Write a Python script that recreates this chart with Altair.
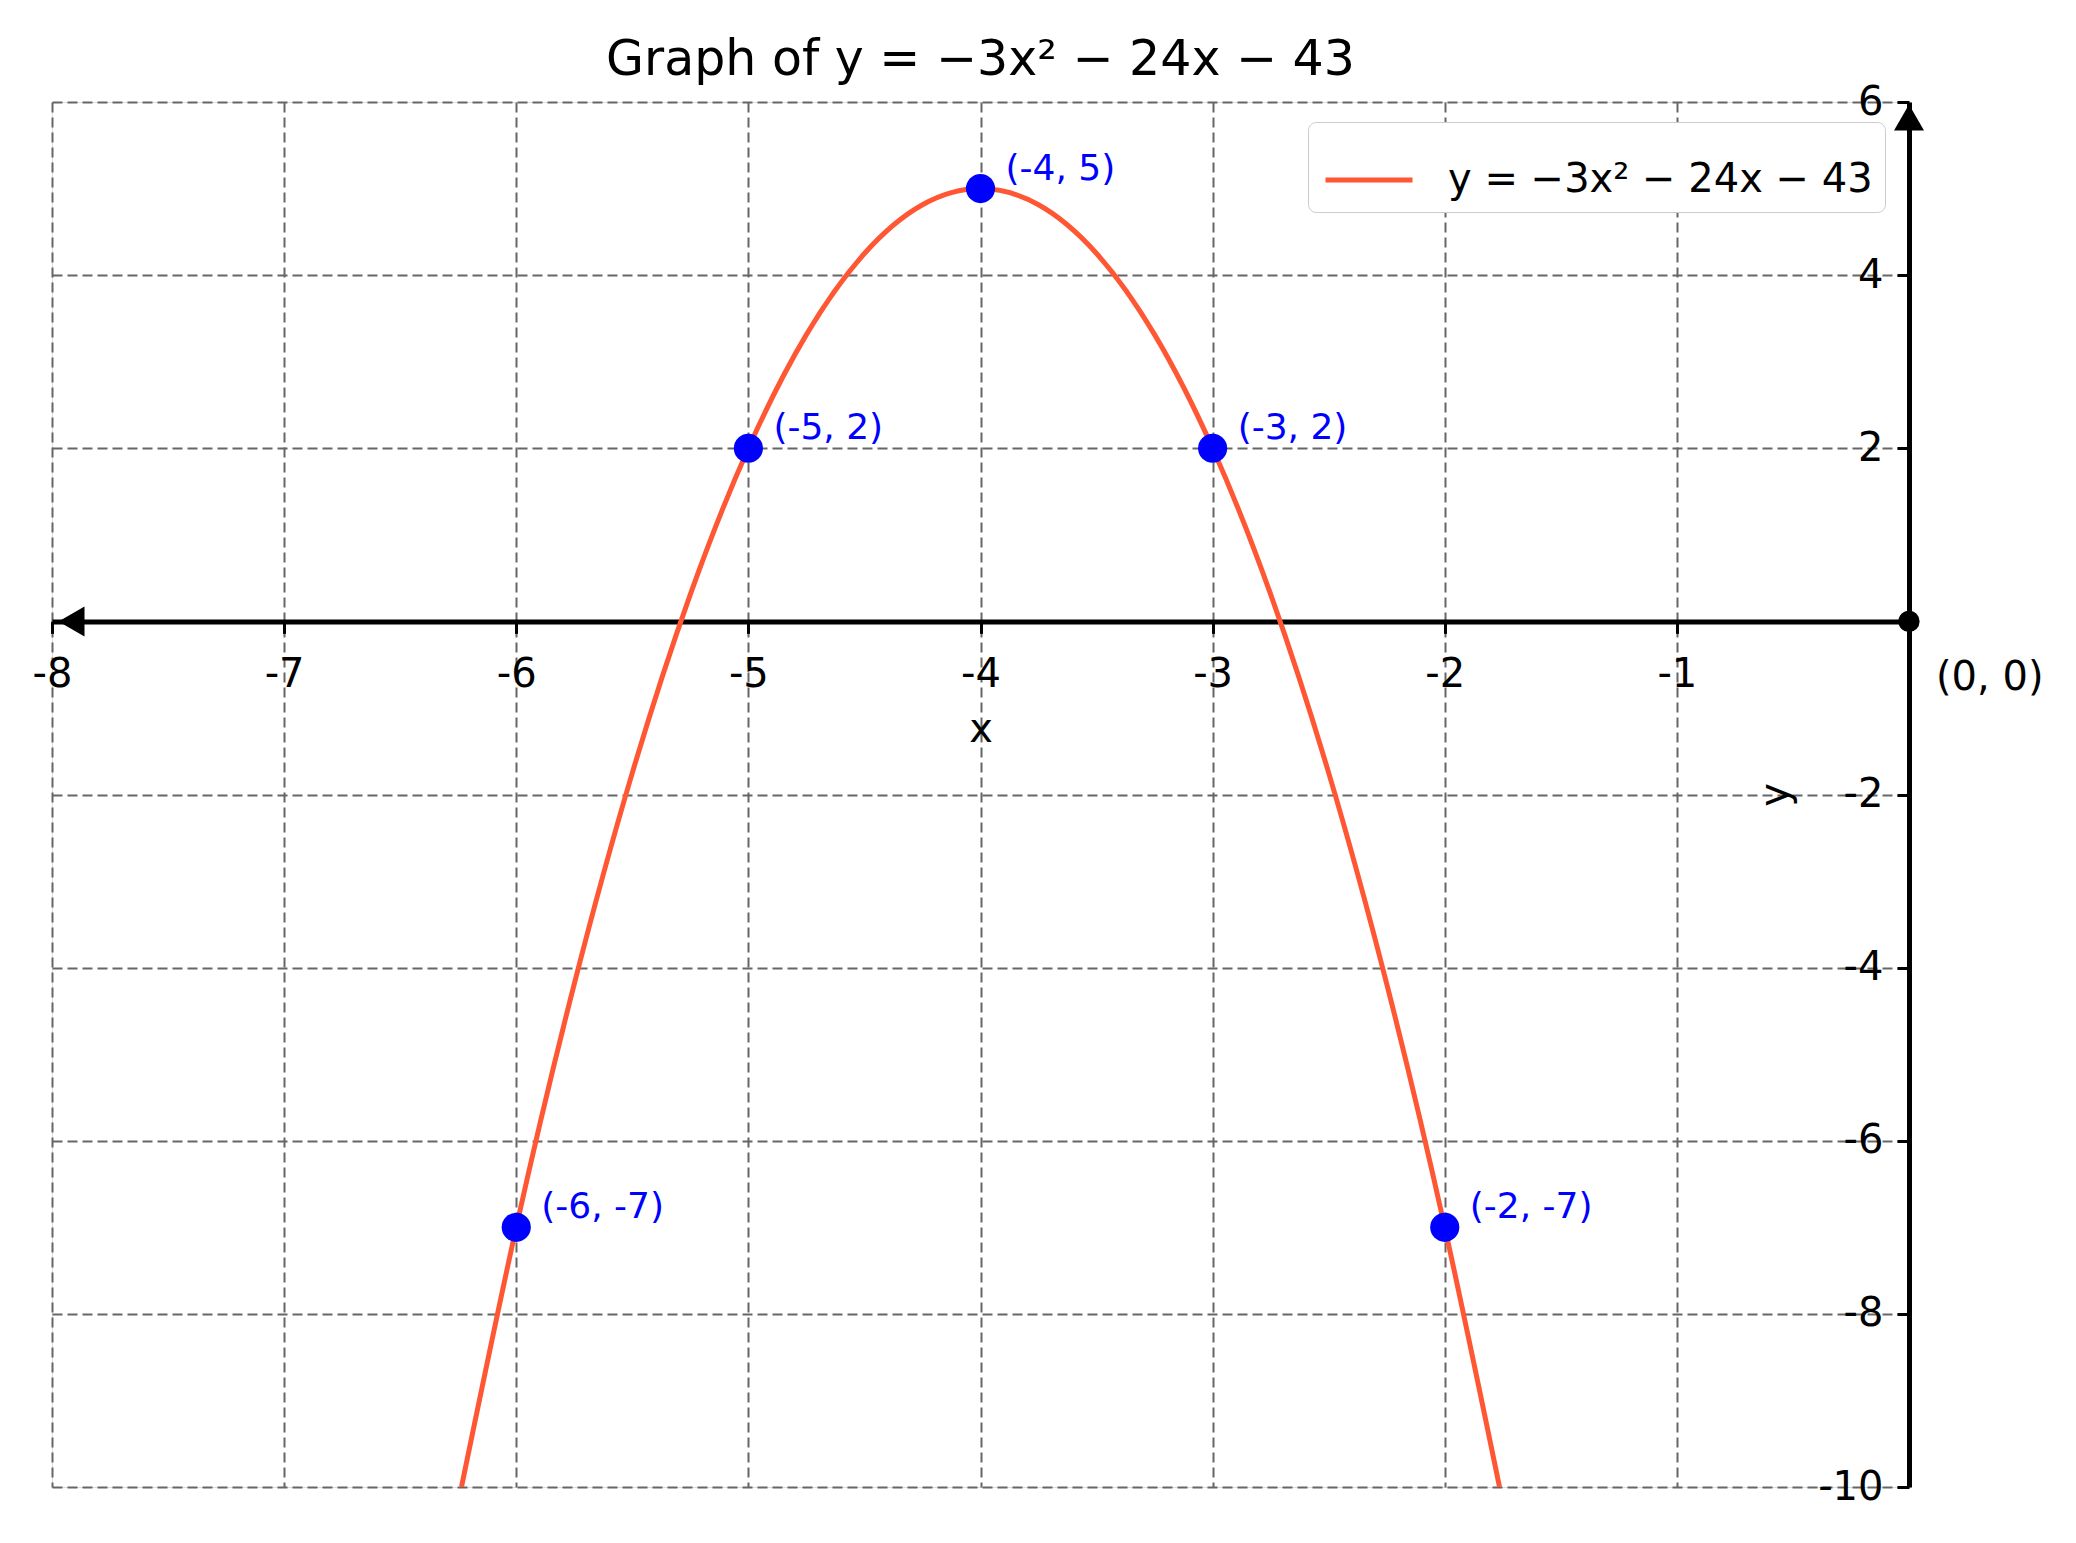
import altair as alt
import pandas as pd

# ---- data ----
curve_x = [-6.236, -6.0, -5.75, -5.5, -5.25, -5.0, -4.75, -4.5, -4.25, -4.0,
           -3.75, -3.5, -3.25, -3.0, -2.75, -2.5, -2.25, -2.0, -1.764]
curve_y = [-10.0, -7.0, -4.1875, -1.75, 0.3125, 2.0, 3.3125, 4.25, 4.8125, 5.0,
           4.8125, 4.25, 3.3125, 2.0, 0.3125, -1.75, -4.1875, -7.0, -10.0]
pts_x = [-6, -5, -4, -3, -2]
pts_y = [-7, 2, 5, 2, -7]
pts_label = ["(-6, -7)", "(-5, 2)", "(-4, 5)", "(-3, 2)", "(-2, -7)"]
x_ticks = [-8, -7, -6, -5, -4, -3, -2, -1, 0]
y_ticks = [-10, -8, -6, -4, -2, 0, 2, 4, 6]
series_name = "y = −3x² − 24x − 43"
title_text = "Graph of y = −3x² − 24x − 43"

W, H = 1857, 1385
FONT = "DejaVu Sans"
CURVE = "#FF5733"

curve_df = pd.DataFrame({"x": curve_x, "y": curve_y, "s": [series_name] * len(curve_x)})
pts_df = pd.DataFrame({"x": pts_x, "y": pts_y, "label": pts_label})
origin_df = pd.DataFrame({"x": [0], "y": [0], "label": ["(0, 0)"]})
left_arrow_df = pd.DataFrame({"x": [-7.916], "y": [0]})
up_arrow_df = pd.DataFrame({"x": [0], "y": [5.82]})

xs = alt.Scale(domain=[-8, 0], nice=False, zero=False)
ys = alt.Scale(domain=[-10, 6], nice=False, zero=False)

x_axis = alt.Axis(
    values=x_ticks, orient="bottom", offset=-(H * 10 / 16),
    labelExpr="datum.value === 0 ? '' : '' + datum.value",
    labelFont=FONT, labelFontSize=40, labelColor="black", labelPadding=21,
    labelFlush=False, labelOverlap=False,
    tickSize=12, tickWidth=3, tickColor="black",
    domainColor="black", domainWidth=5,
    grid=True, gridColor="#666666", gridDash=[10, 5], gridWidth=2,
    title="x", titleFont=FONT, titleFontSize=40, titleFontWeight="normal",
    titleColor="black", titlePadding=15,
)
y_axis = alt.Axis(
    values=y_ticks, orient="left", offset=-W,
    labelExpr="datum.value === 0 ? '' : '' + datum.value",
    labelFont=FONT, labelFontSize=40, labelColor="black", labelPadding=14,
    labelFlush=False, labelOverlap=False,
    tickSize=12, tickWidth=3, tickColor="black",
    domainColor="black", domainWidth=5,
    grid=True, gridColor="#666666", gridDash=[10, 5], gridWidth=2,
    title="y", titleFont=FONT, titleFontSize=40, titleFontWeight="normal",
    titleColor="black", titlePadding=22,
)

curve = alt.Chart(curve_df).mark_line(strokeWidth=5, interpolate="natural", clip=True).encode(
    x=alt.X("x:Q", scale=xs, axis=x_axis),
    y=alt.Y("y:Q", scale=ys, axis=y_axis),
    color=alt.Color("s:N", scale=alt.Scale(domain=[series_name], range=[CURVE]),
                    legend=alt.Legend(
                        orient="none", legendX=1256, legendY=20, title=None,
                        symbolType="stroke", symbolStrokeWidth=5, symbolSize=7569,
                        symbolOffset=3,
                        labelFont=FONT, labelFontSize=40, labelColor="black",
                        labelLimit=800, labelOffset=33, padding=12,
                        strokeColor="#cccccc", fillColor="white", cornerRadius=8,
                    )),
)

points = alt.Chart(pts_df).mark_point(filled=True, shape="circle", size=850, color="blue", opacity=1).encode(
    x=alt.X("x:Q", scale=xs), y=alt.Y("y:Q", scale=ys)
)
labels = alt.Chart(pts_df).mark_text(align="left", baseline="middle", dx=25, dy=-20,
                                     font=FONT, fontSize=36, color="blue").encode(
    x=alt.X("x:Q", scale=xs), y=alt.Y("y:Q", scale=ys), text="label:N"
)
origin_pt = alt.Chart(origin_df).mark_point(filled=True, shape="circle", size=450, color="black", opacity=1).encode(
    x=alt.X("x:Q", scale=xs), y=alt.Y("y:Q", scale=ys)
)
origin_lbl = alt.Chart(origin_df).mark_text(align="left", baseline="middle", dx=27, dy=57,
                                            font=FONT, fontSize=40, color="black").encode(
    x=alt.X("x:Q", scale=xs), y=alt.Y("y:Q", scale=ys), text="label:N"
)
left_arrow = alt.Chart(left_arrow_df).mark_point(filled=True, shape="triangle-left", size=900,
                                                 color="black", opacity=1).encode(
    x=alt.X("x:Q", scale=xs), y=alt.Y("y:Q", scale=ys)
)
up_arrow = alt.Chart(up_arrow_df).mark_point(filled=True, shape="triangle-up", size=900,
                                             color="black", opacity=1).encode(
    x=alt.X("x:Q", scale=xs), y=alt.Y("y:Q", scale=ys)
)

chart = alt.layer(curve, points, labels, origin_pt, origin_lbl, left_arrow, up_arrow).properties(
    width=W, height=H,
    title=alt.TitleParams(title_text, font=FONT, fontSize=49, fontWeight="normal",
                          color="black", anchor="middle", offset=-3),
    autosize=alt.AutoSizeParams(type="none"),
    padding={"left": 44, "top": 94, "right": 150, "bottom": 40},
).configure_view(stroke=None).configure(background="white")

chart.save("out.html", embed_options={"renderer": "svg", "actions": False})
